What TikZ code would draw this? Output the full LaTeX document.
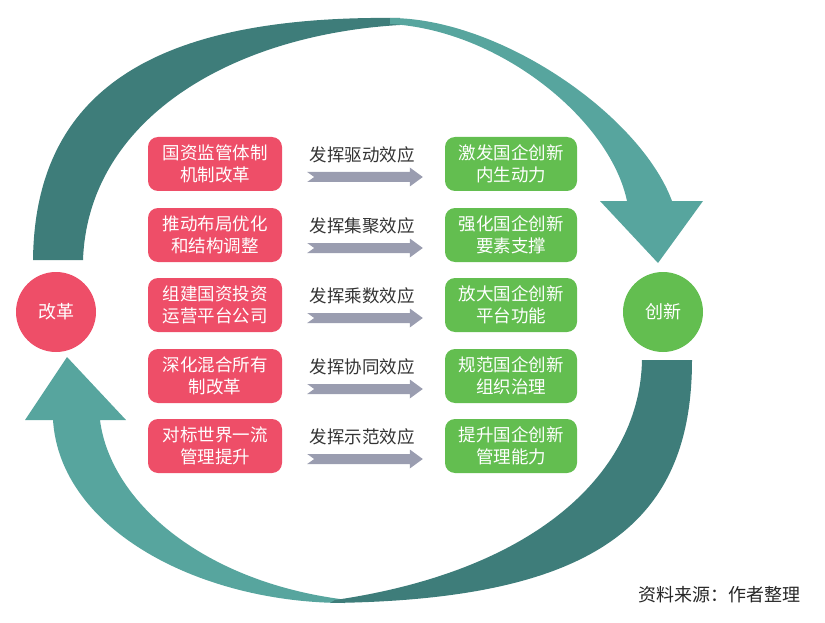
\documentclass[tikz,border=0pt]{standalone}
\usepackage{fontspec}
\setmainfont{Noto Sans CJK SC}
\usepackage{xcolor}
\usepackage{tikz}
\usetikzlibrary{calc}

\definecolor{reformred}{RGB}{238,78,104}
\definecolor{innogreen}{RGB}{99,190,80}
\definecolor{tealdark}{RGB}{62,125,122}
\definecolor{teallight}{RGB}{87,165,158}
\definecolor{effgray}{RGB}{154,157,176}
\definecolor{efftext}{RGB}{51,51,51}

\begin{document}
\begin{tikzpicture}[x=1pt, y=-1pt]
\useasboundingbox (0,0) rectangle (825,623);


\fill[tealdark] (33,260) .. controls (35,80) and (170,15) .. (400,18) -- (400,25) .. controls (230,35) and (88,120) .. (83,260) -- cycle;
\fill[teallight] (390,18) .. controls (500,18) and (640,115) .. (672,201) -- (703,201) -- (658,263) -- (600,201) -- (627,201) .. controls (610,120) and (500,30) .. (390,24) -- cycle;

\fill[teallight] (345,603) .. controls (200,603) and (60,530) .. (53,420) -- (25,420) -- (67,357) -- (126,420) -- (100,420) .. controls (110,500) and (200,580) .. (340,599) -- cycle;
\fill[tealdark] (692,360) .. controls (692,520) and (600,600) .. (330,603) -- (335,600) .. controls (540,570) and (640,470) .. (642,360) -- cycle;

\begin{scope}[every node/.style={circle, minimum size=80pt, inner sep=0pt, text=white, font=\fontsize{18}{22}\selectfont}]
\node[fill=reformred] (reform) at (56,312) {改革};
\node[fill=innogreen] (innov) at (663,312) {创新};
\end{scope}

\begin{scope}[every node/.style={rectangle, rounded corners=10pt, fill=reformred, text=white, minimum width=134pt, minimum height=54pt, inner sep=0pt, align=center, font=\fontsize{17.5}{22}\selectfont}]
\node (r1) at (215,164) {国资监管体制\\机制改革};
\node (r2) at (215,235) {推动布局优化\\和结构调整};
\node (r3) at (215,305) {组建国资投资\\运营平台公司};
\node (r4) at (215,376) {深化混合所有\\制改革};
\node (r5) at (215,446) {对标世界一流\\管理提升};
\end{scope}

\begin{scope}[every node/.style={rectangle, rounded corners=10pt, fill=innogreen, text=white, minimum width=132pt, minimum height=54pt, inner sep=0pt, align=center, font=\fontsize{17.5}{22}\selectfont}]
\node (g1) at (511,164) {激发国企创新\\内生动力};
\node (g2) at (511,235) {强化国企创新\\要素支撑};
\node (g3) at (511,305) {放大国企创新\\平台功能};
\node (g4) at (511,376) {规范国企创新\\组织治理};
\node (g5) at (511,446) {提升国企创新\\管理能力};
\end{scope}

\begin{scope}[every node/.style={text=efftext, inner sep=0pt, font=\fontsize{17.5}{22}\selectfont}]
\node (e1) at (362,155) {发挥驱动效应};
\node (e2) at (362,226) {发挥集聚效应};
\node (e3) at (362,296) {发挥乘数效应};
\node (e4) at (362,367) {发挥协同效应};
\node (e5) at (362,437) {发挥示范效应};
\end{scope}

\foreach \i in {1,...,5} {
  \coordinate (t\i) at ($(r\i.east)+(25,13)$);
  \coordinate (h\i) at ($(g\i.west)+(-22,13)$);
  \fill[effgray] ($(t\i)+(0,-5)$) -- ($(h\i)+(-13,-5)$) -- ($(h\i)+(-13,-9.5)$) -- (h\i) -- ($(h\i)+(-13,9.5)$) -- ($(h\i)+(-13,5)$) -- ($(t\i)+(0,5)$) -- ($(t\i)+(7,0)$) -- cycle;
}

\node[text=black!85, inner sep=0pt, font=\fontsize{18}{22}\selectfont] (source) at (719,595) {资料来源：作者整理};
\end{tikzpicture}
\end{document}
